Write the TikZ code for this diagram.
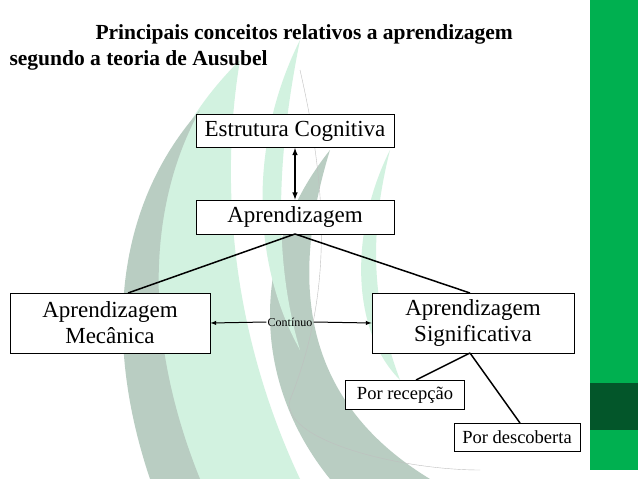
\documentclass[tikz,border=0pt]{standalone}
\usepackage{fontspec}
\setmainfont{Liberation Serif}
\definecolor{barg}{HTML}{00B050}
\definecolor{bard}{HTML}{03562A}
\definecolor{mint}{HTML}{D2F2E0}
\definecolor{sage}{HTML}{B9CDC2}
\begin{document}
\begin{tikzpicture}[x=1pt,y=-1pt,
  box/.style={draw,line width=0.8pt,fill=white,inner sep=3pt,align=center,font=\fontsize{23}{26}\selectfont},
  conn/.style={line width=1.5pt},
  arr/.style={line width=1pt,-latex}]
\useasboundingbox (0,0) rectangle (638,479);
\fill[white] (0,0) rectangle (638,479);
% background swooshes
\fill[mint] (240,60) .. controls (150,150) and (120,260) .. (170,479) -- (300,479) .. controls (230,330) and (220,180) .. (240,60);
\fill[sage] (330,150) .. controls (250,250) and (250,380) .. (330,479) -- (430,479) .. controls (300,400) and (290,280) .. (330,150);
\fill[mint] (300,40) .. controls (250,140) and (250,260) .. (300,350) .. controls (270,250) and (280,140) .. (300,40);
\fill[mint] (390,150) .. controls (350,230) and (350,330) .. (400,380) .. controls (370,300) and (370,230) .. (390,150);
\fill[sage] (200,110) .. controls (120,200) and (100,330) .. (150,479) -- (200,479) .. controls (140,330) and (150,200) .. (200,110);
\draw[gray!50] (300,70) .. controls (330,200) and (330,300) .. (290,400) .. controls (280,440) and (400,470) .. (480,470);
% green bar
\fill[barg] (590,0) rectangle (638,470);
\fill[bard] (590,383) rectangle (638,430);
% title
\node[anchor=west,font=\bfseries\fontsize{21.5}{25}\selectfont] (t1) at (92,34) {Principais conceitos relativos a aprendizagem};
\node[anchor=west,font=\bfseries\fontsize{21.5}{25}\selectfont] (t2) at (6,60) {segundo a teoria de Ausubel};
% nodes
\node[box,minimum width=198,minimum height=33] (ec) at (295,131) {Estrutura Cognitiva};
\node[box,minimum width=198,minimum height=34] (ap) at (295,217) {Aprendizagem};
\node[box,minimum width=200,minimum height=60,inner sep=1pt] (me) at (110,323) {Aprendizagem\\Mecânica};
\node[box,minimum width=202,minimum height=60,inner sep=1pt] (si) at (473,323) {Aprendizagem\\Significativa};
\node[box,minimum width=119,minimum height=29,font=\fontsize{18.5}{21}\selectfont,inner sep=2pt] (re) at (405,395) {Por recepção};
\node[box,minimum width=126,minimum height=28,font=\fontsize{18.5}{21}\selectfont,inner sep=2pt] (de) at (517,437) {Por descoberta};
\node[font=\fontsize{12}{14}\selectfont,inner sep=1pt] (co) at (290,322) {Contínuo};
% connectors
\draw[line width=1.5pt,latex-latex] (ec.south) -- (ap.north);
\coordinate (apb) at (295,234);
\draw[conn] (apb) -- (128,293);
\draw[conn] (apb) -- (470,293);
\draw[arr] (co.west) -- (me.east);
\draw[arr] (co.east) -- (si.west);
\coordinate (sib) at (470,353);
\draw[conn] (sib) -- (416,380);
\draw[conn] (sib) -- (520,423);
\end{tikzpicture}
\end{document}
